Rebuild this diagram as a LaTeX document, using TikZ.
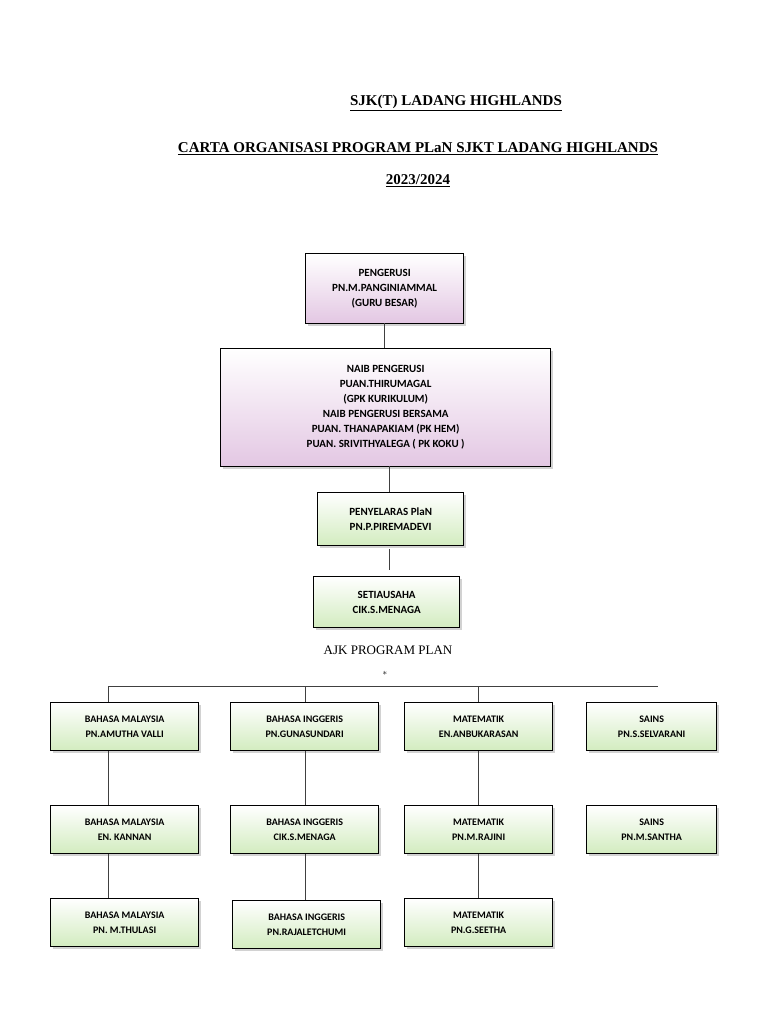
\documentclass[tikz,border=0pt]{standalone}
\usepackage{fontspec}
\setmainfont{Liberation Serif}
\newfontfamily\boxfont{Carlito}
\usetikzlibrary{shadows}
\begin{document}
\begin{tikzpicture}[x=1pt,y=-1pt,
  box/.style={draw=black,line width=1.3pt,inner sep=0pt,anchor=north west,
    font=\boxfont\bfseries\fontsize{11}{15}\selectfont,align=center,
    drop shadow={shadow xshift=2pt,shadow yshift=-2pt,fill=black!35}},
  pbox/.style={box,top color=white,bottom color=violet!22},
  gbox/.style={box,top color=white,bottom color=green!40!olive!25},
  ttl/.style={font=\bfseries\fontsize{15}{18}\selectfont},
  ln/.style={draw=black!75,line width=0.8pt}]
\useasboundingbox (0,0) rectangle (768,1024);
\node[ttl] (t1) at (456,103) {\underline{SJK(T) LADANG HIGHLANDS}};
\node[ttl] (t2) at (418,149) {\underline{CARTA ORGANISASI PROGRAM PLaN SJKT LADANG HIGHLANDS}};
\node[ttl] (t3) at (418,181) {\underline{2023/2024}};
\node[pbox,minimum width=158pt,minimum height=70pt] (p) at (305,253) {PENGERUSI\\PN.M.PANGINIAMMAL\\(GURU BESAR)};
\node[pbox,minimum width=330pt,minimum height=118pt] (n) at (220,348) {NAIB PENGERUSI\\PUAN.THIRUMAGAL\\(GPK KURIKULUM)\\NAIB PENGERUSI BERSAMA\\PUAN. THANAPAKIAM (PK HEM)\\PUAN. SRIVITHYALEGA ( PK KOKU )};
\node[gbox,minimum width=146pt,minimum height=53pt] (s1) at (317,492) {PENYELARAS PlaN\\PN.P.PIREMADEVI};
\node[gbox,minimum width=146pt,minimum height=51pt] (s2) at (313,576) {SETIAUSAHA\\CIK.S.MENAGA};
\node[font=\fontsize{13}{15}\selectfont] (ajk) at (388,650) {AJK PROGRAM PLAN};
\node[font=\small] (star) at (385,673) {$\ast$};
\draw[ln] (384,323) -- (384,348);
\draw[ln] (389,466) -- (389,492);
\draw[ln] (389,549) -- (389,570);
\coordinate (b0) at (108,686); \coordinate (b1) at (658,686);
\coordinate (bBI) at (305,686); \coordinate (bMT) at (478,686);
\draw[ln] (b0) -- (b1);
\tikzset{sbox/.style={gbox,minimum width=148pt,minimum height=48pt,font=\boxfont\bfseries\fontsize{10}{15}\selectfont}}
\node[sbox] (bm1) at (50,702) {BAHASA MALAYSIA\\PN.AMUTHA VALLI};
\node[sbox] (bi1) at (230,702) {BAHASA INGGERIS\\PN.GUNASUNDARI};
\node[sbox] (mt1) at (404,702) {MATEMATIK\\EN.ANBUKARASAN};
\node[sbox,minimum width=130pt] (sa1) at (586,702) {SAINS\\PN.S.SELVARANI};
\node[sbox] (bm2) at (50,805) {BAHASA MALAYSIA\\EN. KANNAN};
\node[sbox] (bi2) at (230,805) {BAHASA INGGERIS\\CIK.S.MENAGA};
\node[sbox] (mt2) at (404,805) {MATEMATIK\\PN.M.RAJINI};
\node[sbox,minimum width=130pt] (sa2) at (586,805) {SAINS\\PN.M.SANTHA};
\node[sbox] (bm3) at (50,898) {BAHASA MALAYSIA\\PN. M.THULASI};
\node[sbox] (bi3) at (232,900) {BAHASA INGGERIS\\PN.RAJALETCHUMI};
\node[sbox] (mt3) at (404,898) {MATEMATIK\\PN.G.SEETHA};
\draw[ln] (b0) -- (b0 |- bm1.north);
\draw[ln] (bBI) -- (bBI |- bi1.north);
\draw[ln] (bMT) -- (bMT |- mt1.north);
\draw[ln] (b0 |- bm1.south) -- (b0 |- bm2.north);
\draw[ln] (b0 |- bm2.south) -- (b0 |- bm3.north);
\draw[ln] (bBI |- bi1.south) -- (bBI |- bi2.north);
\draw[ln] (bBI |- bi2.south) -- (bBI |- bi3.north);
\draw[ln] (bMT |- mt1.south) -- (bMT |- mt2.north);
\draw[ln] (bMT |- mt2.south) -- (bMT |- mt3.north);
\end{tikzpicture}
\end{document}
